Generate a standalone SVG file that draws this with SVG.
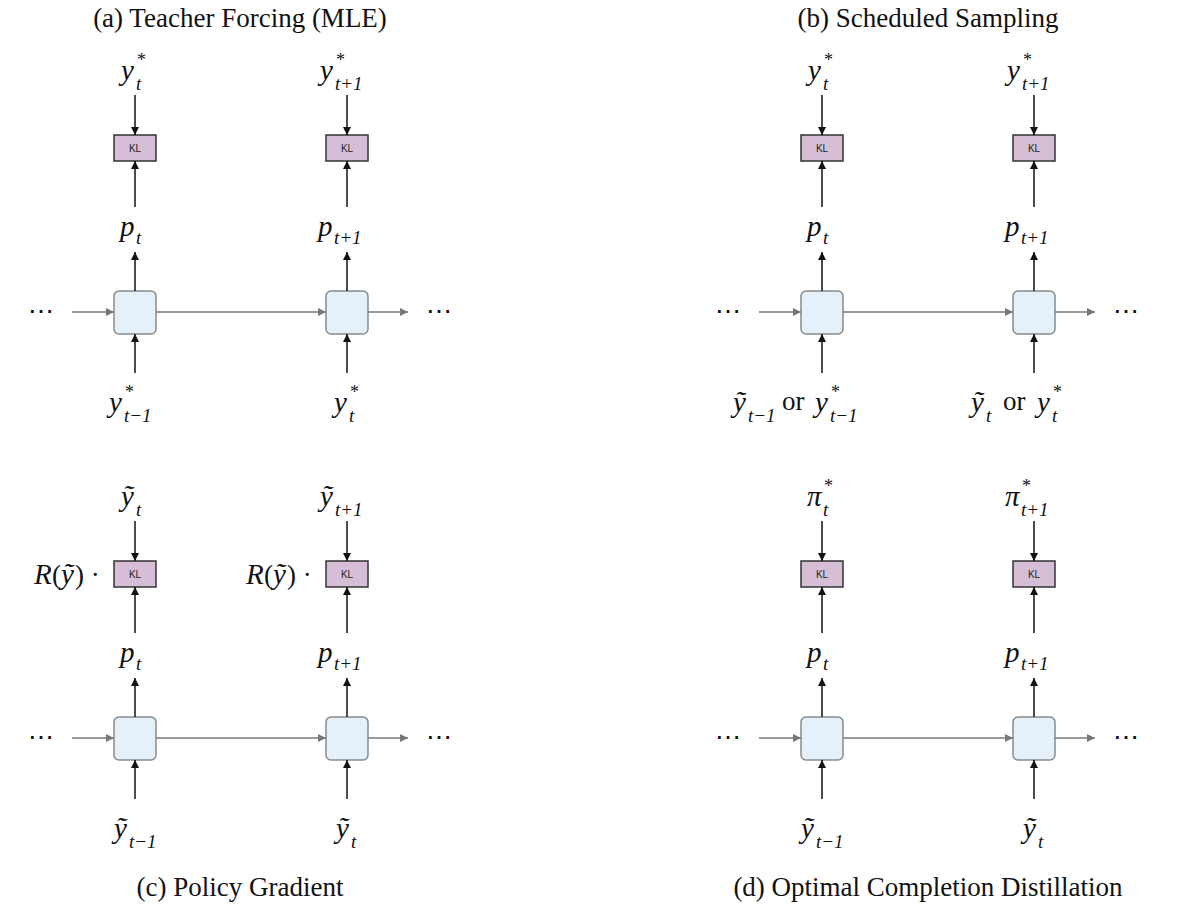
<svg xmlns="http://www.w3.org/2000/svg" width="1180" height="911" viewBox="0 0 1180 911">
<style>
.t{font-family:"Liberation Serif","Times New Roman",serif;font-size:27px;fill:#111}
.m{font-family:"Liberation Serif","Times New Roman",serif;font-style:italic;font-size:29px;fill:#111}
.s{font-family:"Liberation Serif","Times New Roman",serif;font-style:italic;font-size:19px;fill:#111}
.r{font-family:"Liberation Serif","Times New Roman",serif;font-size:18px;fill:#111}
.kl{fill:#d6bfd6;stroke:#333;stroke-width:1.5}
.kt{font-family:"Liberation Sans",sans-serif;font-size:10px;fill:#222;text-anchor:middle}
.cell{fill:#e4f1fb;stroke:#8a8a8a;stroke-width:1.5}
.v{stroke:#111;stroke-width:1.5;fill:none;marker-end:url(#ab)}
.h{stroke:#777;stroke-width:1.5;fill:none;marker-end:url(#ag)}
.d{font-family:"Liberation Serif",serif;font-size:26px;fill:#111}
</style>
<defs>
<marker id="ab" viewBox="0 0 10 10" refX="10" refY="5" markerWidth="8" markerHeight="9" markerUnits="userSpaceOnUse" orient="auto"><path d="M0,0L10,5L0,10z" fill="#111"/></marker>
<marker id="ag" viewBox="0 0 10 10" refX="10" refY="5" markerWidth="11" markerHeight="8" markerUnits="userSpaceOnUse" orient="auto"><path d="M0,0L10,5L0,10z" fill="#777"/></marker>
<g id="skel">
<rect class="kl" x="114" y="135" width="42" height="26"/><text class="kt" x="135" y="152">KL</text>
<rect class="kl" x="326" y="135" width="42" height="26"/><text class="kt" x="347" y="152">KL</text>
<rect class="cell" x="114" y="291" width="42" height="43" rx="5"/>
<rect class="cell" x="326" y="291" width="42" height="43" rx="5"/>
<path class="v" d="M135,95V135"/><path class="v" d="M135,207V161"/><path class="v" d="M135,291V252"/><path class="v" d="M135,373V334"/>
<path class="v" d="M347,95V135"/><path class="v" d="M347,207V161"/><path class="v" d="M347,291V252"/><path class="v" d="M347,373V334"/>
<path class="h" d="M72,312H114"/><path class="h" d="M156,312H326"/><path class="h" d="M368,312H408"/>
<text class="d" x="28" y="320">⋯</text><text class="d" x="426" y="320">⋯</text>
</g>
</defs>
<text class="t" x="240" y="27" text-anchor="middle">(a) Teacher Forcing (MLE)</text>
<text class="t" x="928" y="27" text-anchor="middle">(b) Scheduled Sampling</text>
<text class="t" x="240" y="896" text-anchor="middle">(c) Policy Gradient</text>
<text class="t" x="928" y="896" text-anchor="middle">(d) Optimal Completion Distillation</text>

<g id="panel-a">
<use href="#skel"/>
<g id="a-top"><text class="m" x="121" y="80">y</text><text class="r" x="137" y="66">*</text><text class="s" x="136" y="90">t</text>
<text class="m" x="320" y="80">y</text><text class="r" x="336" y="66">*</text><text class="s" x="335" y="90">t+1</text></g>
<g id="a-p"><text class="m" x="120" y="236">p</text><text class="s" x="136" y="244">t</text>
<text class="m" x="318" y="236">p</text><text class="s" x="334" y="244">t+1</text></g>
<g id="a-bot"><text class="m" x="109" y="412">y</text><text class="r" x="125" y="398">*</text><text class="s" x="124" y="422">t−1</text>
<text class="m" x="334" y="412">y</text><text class="r" x="350" y="398">*</text><text class="s" x="349" y="422">t</text></g>
</g>

<g id="panel-b" transform="translate(687,0)">
<use href="#skel"/>
<text class="m" x="121" y="80">y</text><text class="r" x="137" y="66">*</text><text class="s" x="136" y="90">t</text>
<text class="m" x="320" y="80">y</text><text class="r" x="336" y="66">*</text><text class="s" x="335" y="90">t+1</text>
<text class="m" x="120" y="236">p</text><text class="s" x="136" y="244">t</text>
<text class="m" x="318" y="236">p</text><text class="s" x="334" y="244">t+1</text>
<text class="m" x="46" y="412">ỹ</text><text class="s" x="61" y="422">t−1</text><text class="t" x="95" y="410">or</text>
<text class="m" x="128" y="412">y</text><text class="r" x="144" y="398">*</text><text class="s" x="143" y="422">t−1</text>
<text class="m" x="284" y="412">ỹ</text><text class="s" x="299" y="422">t</text><text class="t" x="316" y="410">or</text>
<text class="m" x="350" y="412">y</text><text class="r" x="366" y="398">*</text><text class="s" x="365" y="422">t</text>
</g>

<g id="panel-c" transform="translate(0,426)">
<use href="#skel"/>
<text class="m" x="121" y="80">ỹ</text><text class="s" x="136" y="90">t</text>
<text class="m" x="320" y="80">ỹ</text><text class="s" x="335" y="90">t+1</text>
<text class="m" x="34" y="158">R</text><text class="t" x="52" y="158">(</text><text class="m" x="61" y="158">ỹ</text><text class="t" x="75" y="158">) ·</text>
<text class="m" x="246" y="158">R</text><text class="t" x="264" y="158">(</text><text class="m" x="273" y="158">ỹ</text><text class="t" x="287" y="158">) ·</text>
<text class="m" x="120" y="236">p</text><text class="s" x="136" y="244">t</text>
<text class="m" x="318" y="236">p</text><text class="s" x="334" y="244">t+1</text>
<text class="m" x="114" y="412">ỹ</text><text class="s" x="129" y="422">t−1</text>
<text class="m" x="336" y="412">ỹ</text><text class="s" x="351" y="422">t</text>
</g>

<g id="panel-d" transform="translate(687,426)">
<use href="#skel"/>
<text class="m" x="120" y="80">π</text><text class="r" x="137" y="66">*</text><text class="s" x="136" y="90">t</text>
<text class="m" x="318" y="80">π</text><text class="r" x="335" y="66">*</text><text class="s" x="334" y="90">t+1</text>
<text class="m" x="120" y="236">p</text><text class="s" x="136" y="244">t</text>
<text class="m" x="318" y="236">p</text><text class="s" x="334" y="244">t+1</text>
<text class="m" x="114" y="412">ỹ</text><text class="s" x="129" y="422">t−1</text>
<text class="m" x="336" y="412">ỹ</text><text class="s" x="351" y="422">t</text>
</g>
</svg>
